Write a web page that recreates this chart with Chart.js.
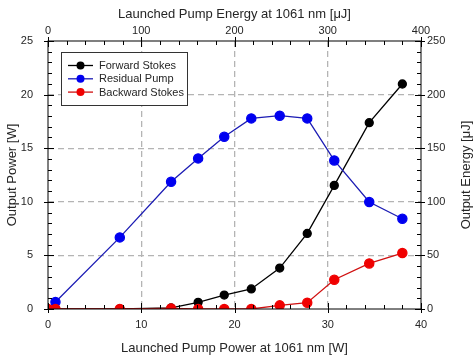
<!DOCTYPE html>
<html>
<head>
<meta charset="utf-8">
<script src="https://cdn.jsdelivr.net/npm/chart.js@4.4.0/dist/chart.umd.min.js"></script>
<style>
html,body{margin:0;padding:0;background:#fff;}
#wrap{width:474px;height:356px;position:relative;}
</style>
</head>
<body>
<div id="wrap"><canvas id="c" width="474" height="356"></canvas></div>
<script>
const pumpPower = [0, 0.8, 7.7, 13.2, 16.1, 18.9, 21.8, 24.85, 27.8, 30.7, 34.45, 38.0];
const forwardStokes = [0, 0, 0, 0.1, 0.62, 1.3, 1.87, 3.82, 7.05, 11.53, 17.38, 20.99];
const residualPump = [null, 0.65, 6.68, 11.87, 14.05, 16.07, 17.78, 18.03, 17.78, 13.86, 9.98, 8.42];
const backwardStokes = [0, 0, 0, 0.05, 0, 0, 0, 0.34, 0.59, 2.73, 4.25, 5.22];
const seriesNames = ['Forward Stokes', 'Residual Pump', 'Backward Stokes'];
const bottomTicks = [0, 10, 20, 30, 40];
const topTicks = [0, 100, 200, 300, 400];
const leftTicks = [0, 5, 10, 15, 20, 25];
const rightTicks = [0, 50, 100, 150, 200, 250];
const rightTitle = 'Output Energy [\u03bcJ]';

const FONT = 'Liberation Sans, Arial, sans-serif';
const TXT = '#262626';
const toPts = (ys) => pumpPower.map((x, i) => ({x: x, y: ys[i]})).filter(p => p.y !== null);

const styles = [
  {line: '#000000', pt: '#000000', r: 4, order: 2},
  {line: '#1c1cb4', pt: '#0000f0', r: 4.6, order: 1},
  {line: '#d01010', pt: '#f00000', r: 4.6, order: 0}
];
const seriesData = [forwardStokes, residualPump, backwardStokes];

const datasets = seriesData.map((d, i) => ({
  label: seriesNames[i],
  data: toPts(d),
  borderColor: styles[i].line,
  backgroundColor: styles[i].pt,
  pointBackgroundColor: styles[i].pt,
  pointBorderColor: styles[i].pt,
  pointRadius: styles[i].r,
  borderWidth: 1.3,
  tension: 0,
  order: styles[i].order,
  xAxisID: 'x',
  yAxisID: 'y'
}));

const tickPlugin = {
  id: 'ticksIn',
  afterDraw(chart) {
    const ctx = chart.ctx;
    const a = chart.chartArea;
    ctx.save();
    ctx.strokeStyle = '#000';
    ctx.lineWidth = 1;
    ctx.setLineDash([]);
    ctx.strokeRect(a.left, a.top, a.right - a.left, a.bottom - a.top);
    const defs = [
      {id: 'x', step: 2, major: 10, side: 'bottom'},
      {id: 'x2', step: 20, major: 100, side: 'top'},
      {id: 'y', step: 1, major: 5, side: 'left'},
      {id: 'y2', step: 10, major: 50, side: 'right'}
    ];
    defs.forEach(d => {
      const s = chart.scales[d.id];
      for (let v = s.min; v <= s.max + 1e-9; v += d.step) {
        const isMajor = Math.abs(v / d.major - Math.round(v / d.major)) < 1e-6;
        const inLen = isMajor ? 6 : 4;
        const outLen = isMajor ? 4 : 0;
        const p = Math.round(s.getPixelForValue(v)) + 0.5;
        ctx.beginPath();
        if (d.side === 'bottom') { ctx.moveTo(p, a.bottom + outLen); ctx.lineTo(p, a.bottom - inLen); }
        if (d.side === 'top') { ctx.moveTo(p, a.top - outLen); ctx.lineTo(p, a.top + inLen); }
        if (d.side === 'left') { ctx.moveTo(a.left - outLen, p); ctx.lineTo(a.left + inLen, p); }
        if (d.side === 'right') { ctx.moveTo(a.right + outLen, p); ctx.lineTo(a.right - inLen, p); }
        ctx.stroke();
      }
    });
    // right axis title, reading bottom to top
    ctx.save();
    ctx.translate(466, (a.top + a.bottom) / 2);
    ctx.rotate(-Math.PI / 2);
    ctx.font = '13px ' + FONT;
    ctx.fillStyle = TXT;
    ctx.textAlign = 'center';
    ctx.textBaseline = 'middle';
    ctx.fillText(rightTitle, 0, 0);
    ctx.restore();
    // legend box
    const lx = 61, ly = 52, lw = 126, lh = 53;
    ctx.fillStyle = '#fff';
    ctx.fillRect(lx, ly, lw, lh);
    ctx.strokeStyle = '#333';
    ctx.lineWidth = 1;
    ctx.strokeRect(lx + 0.5, ly + 0.5, lw, lh);
    ctx.font = '11px ' + FONT;
    ctx.textBaseline = 'middle';
    ctx.textAlign = 'left';
    seriesNames.forEach((n, i) => {
      const yy = 65.5 + i * 13.3;
      ctx.strokeStyle = styles[i].line;
      ctx.lineWidth = 1.3;
      ctx.beginPath(); ctx.moveTo(68, yy); ctx.lineTo(93, yy); ctx.stroke();
      ctx.fillStyle = styles[i].pt;
      ctx.beginPath(); ctx.arc(80.5, yy, 4, 0, Math.PI * 2); ctx.fill();
      ctx.fillStyle = TXT;
      ctx.fillText(n, 99, yy + 0.5);
    });
    ctx.restore();
  }
};

const fixSize = (w, h) => (scale) => {
  if (w !== null) scale.width = w;
  if (h !== null) scale.height = h;
};

const tickFont = {family: FONT, size: 11};
const titleFont = {family: FONT, size: 13};

new Chart(document.getElementById('c'), {
  type: 'line',
  data: {datasets: datasets},
  plugins: [tickPlugin],
  options: {
    responsive: false,
    animation: false,
    devicePixelRatio: 1,
    layout: {padding: 0},
    plugins: {legend: {display: false}, tooltip: {enabled: false}},
    scales: {
      x: {
        type: 'linear', position: 'bottom', min: 0, max: 40,
        afterBuildTicks: (s) => { s.ticks = bottomTicks.map(v => ({value: v})); },
        afterFit: fixSize(null, 47),
        ticks: {font: tickFont, color: TXT, padding: 9, maxRotation: 0},
        grid: {drawTicks: false, color: (c) => (c.tick && (c.tick.value === 0 || c.tick.value === 40)) ? 'rgba(0,0,0,0)' : '#b4b4b4', lineWidth: 1.3},
        border: {display: false, dash: [6, 4]},
        title: {display: true, text: 'Launched Pump Power at 1061 nm [W]', font: titleFont, color: TXT, padding: {top: 6, bottom: 0}}
      },
      x2: {
        type: 'linear', position: 'top', min: 0, max: 400,
        afterBuildTicks: (s) => { s.ticks = topTicks.map(v => ({value: v})); },
        afterFit: fixSize(null, 41),
        ticks: {font: tickFont, color: TXT, padding: 3, maxRotation: 0},
        grid: {display: false, drawTicks: false},
        border: {display: false},
        title: {display: true, text: 'Launched Pump Energy at 1061 nm [\u03bcJ]', font: titleFont, color: TXT, padding: {top: 7, bottom: 0}}
      },
      y: {
        type: 'linear', position: 'left', min: 0, max: 25,
        afterBuildTicks: (s) => { s.ticks = leftTicks.map(v => ({value: v})); },
        afterFit: fixSize(48, null),
        ticks: {font: tickFont, color: TXT, padding: 15},
        grid: {drawTicks: false, color: (c) => (c.tick && (c.tick.value === 0 || c.tick.value === 25)) ? 'rgba(0,0,0,0)' : '#b4b4b4', lineWidth: 1.3},
        border: {display: false, dash: [6, 4]},
        title: {display: true, text: 'Output Power [W]', font: titleFont, color: TXT, padding: {top: 5, bottom: 0}}
      },
      y2: {
        type: 'linear', position: 'right', min: 0, max: 250,
        afterBuildTicks: (s) => { s.ticks = rightTicks.map(v => ({value: v})); },
        afterFit: fixSize(53, null),
        ticks: {font: tickFont, color: TXT, padding: 6},
        grid: {display: false, drawTicks: false},
        border: {display: false},
        title: {display: false}
      }
    }
  }
});
</script>
</body>
</html>
